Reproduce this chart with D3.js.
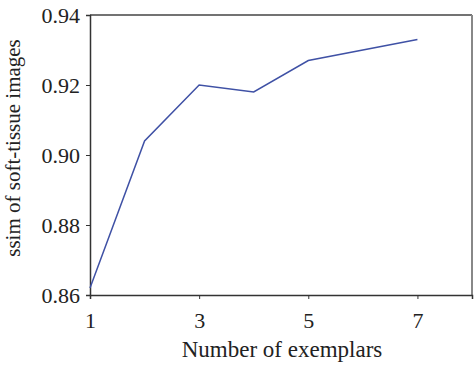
<!DOCTYPE html>
<html lang="en">
<head>
    <meta charset="UTF-8"/>
    <title>ssim</title>
    <script src="https://d3js.org/d3.v7.min.js"></script>
    <style type="text/css">
        body { margin: 0; background: #fff; }
        text { font-family: "Liberation Serif", serif; fill: #222; }
        .axis path, .axis line { stroke: #333; }
    </style>
</head>
<body>
<div id="my_dataviz"></div>
<script>

// data
var exemplars = [1, 2, 3, 4, 5, 7];
var ssim = [0.862, 0.904, 0.920, 0.918, 0.927, 0.933];
var xTicks = [1, 3, 5, 7];
var yTicks = [0.86, 0.88, 0.90, 0.92, 0.94];

var margin = {top: 15, right: 2, bottom: 73, left: 90},
    width = 474 - margin.left - margin.right,
    height = 368 - margin.top - margin.bottom;

var svg = d3.select("#my_dataviz")
  .append("svg")
    .attr("width", 474)
    .attr("height", 368)
  .append("g")
    .attr("transform", "translate(" + margin.left + "," + margin.top + ")");

var x = d3.scaleLinear().domain([1, 8]).range([0, width]);
var y = d3.scaleLinear().domain([0.86, 0.94]).range([height, 0]);

// frame (top and right in grey)
svg.append("line")
  .attr("x1", 0).attr("x2", width).attr("y1", 0).attr("y2", 0)
  .attr("stroke", "#444").attr("stroke-width", 1.5);
svg.append("line")
  .attr("x1", width).attr("x2", width).attr("y1", 0).attr("y2", height)
  .attr("stroke", "#888").attr("stroke-width", 2);

// X axis
var gx = svg.append("g")
  .attr("class", "axis")
  .attr("transform", "translate(0," + height + ")")
  .call(d3.axisBottom(x).tickValues(xTicks).tickFormat(d3.format("d")).tickSizeOuter(0).tickSize(4).tickPadding(13));
gx.select(".domain").attr("stroke-width", 1.5);
gx.selectAll("text").style("font-size", "22px").style("font-family", "Liberation Serif");

// Y axis
var gy = svg.append("g")
  .attr("class", "axis")
  .call(d3.axisLeft(y).tickValues(yTicks).tickFormat(d3.format(".2f")).tickSizeOuter(0).tickSize(4).tickPadding(6));
gy.select(".domain").attr("stroke-width", 1.5);
gy.selectAll("text").style("font-size", "22px").style("font-family", "Liberation Serif");

// axis titles
svg.append("text")
  .attr("x", 192)
  .attr("y", 342)
  .attr("text-anchor", "middle")
  .style("font-size", "23px")
  .text("Number of exemplars");

svg.append("text")
  .attr("transform", "translate(" + (-70) + "," + 133 + ")rotate(-90)")
  .attr("text-anchor", "middle")
  .style("font-size", "21px")
  .text("ssim of soft-tissue images");

// line
var line = d3.line()
  .x(function(d, i) { return x(exemplars[i]); })
  .y(function(d) { return y(d); });

svg.append("path")
  .datum(ssim)
  .attr("fill", "none")
  .attr("stroke", "#3f51a5")
  .attr("stroke-width", 1.5)
  .attr("d", line);

</script>
</body>
</html>
